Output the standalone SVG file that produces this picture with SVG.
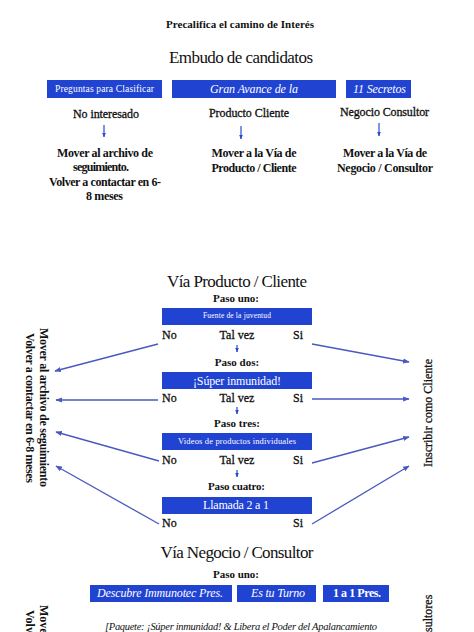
<svg xmlns="http://www.w3.org/2000/svg" width="474" height="632" viewBox="0 0 474 632">
<style>
.t{font-family:"Liberation Serif","Times New Roman",serif;fill:#111}
.d{stroke:#111;stroke-width:0.3}
.b{font-weight:bold}
.h{font-size:17px}
.m{font-size:12px}
.p{font-size:11px;font-weight:bold}
.w{font-family:"Liberation Serif","Times New Roman",serif;fill:#fff}
.i{font-style:italic}
.box{fill:#2143d2}
.c{stroke:#4a58c0;stroke-width:1.3;fill:none}
.a{stroke:#2b4cc8;stroke-width:1.2;fill:none}
</style>
<defs>
<marker id="ah" viewBox="0 0 10 10" refX="9" refY="5" markerWidth="5" markerHeight="5" orient="auto">
<path d="M0,1 L10,5 L0,9 z" fill="#4a58c0"/>
</marker>
<marker id="sa" viewBox="0 0 10 10" refX="9" refY="5" markerWidth="4" markerHeight="4" orient="auto">
<path d="M0,1 L10,5 L0,9 z" fill="#2b4cc8"/>
</marker>
</defs>
<rect width="474" height="632" fill="#fff"/>

<g id="title">
<text class="t b" x="240" y="28" font-size="11" text-anchor="middle" textLength="148">Precalifica el camino de Interés</text>
<text class="t h" x="241" y="63" text-anchor="middle" textLength="144">Embudo de candidatos</text>
</g>

<g id="box-preguntas"><rect class="box" x="47" y="80" width="115" height="18"/>
<text class="w" x="104.5" y="92" font-size="9.5" text-anchor="middle" textLength="99">Preguntas para Clasificar</text></g>
<g id="box-gran"><rect class="box" x="172" y="80" width="164" height="18"/>
<text class="w i" x="254" y="93" font-size="12" text-anchor="middle" textLength="88">Gran Avance de la</text></g>
<g id="box-secretos"><rect class="box" x="346" y="80" width="65" height="18"/>
<text class="w i" x="379.5" y="93" font-size="12" text-anchor="middle" textLength="53">11 Secretos</text></g>

<g id="col-no">
<text class="t m d" x="106" y="118" text-anchor="middle" textLength="66">No interesado</text>
<text class="t m b" x="105" y="157" text-anchor="middle" textLength="96">Mover al archivo de</text>
<text class="t m b" x="101" y="171" text-anchor="middle" textLength="56">seguimiento.</text>
<text class="t m b" x="105" y="186" text-anchor="middle" textLength="112">Volver a contactar en 6-</text>
<text class="t m b" x="104.5" y="200" text-anchor="middle" textLength="37">8 meses</text>
</g>
<g id="col-producto">
<text class="t m d" x="249" y="117" text-anchor="middle" textLength="80">Producto Cliente</text>
<text class="t m b" x="254" y="157" text-anchor="middle" textLength="85">Mover a la Vía de</text>
<text class="t m b" x="254" y="172" text-anchor="middle" textLength="85">Producto / Cliente</text>
</g>
<g id="col-negocio">
<text class="t m d" x="384.5" y="116" text-anchor="middle" textLength="89">Negocio Consultor</text>
<text class="t m b" x="385" y="157" text-anchor="middle" textLength="84">Mover a la Vía de</text>
<text class="t m b" x="385" y="172" text-anchor="middle" textLength="96">Negocio / Consultor</text>
</g>

<g id="via-producto">
<text class="t h" x="237" y="287" text-anchor="middle" textLength="140">Vía Producto / Cliente</text>
<text class="t p" x="236" y="302" text-anchor="middle" textLength="46">Paso uno:</text>
<rect class="box" x="162" y="308" width="150" height="17"/>
<text class="w" x="237" y="318" font-size="7.5" text-anchor="middle" textLength="68">Fuente de la juventud</text>
<text class="t m d" x="162" y="339">No</text><text class="t m d" x="237" y="339" text-anchor="middle">Tal vez</text><text class="t m d" x="298" y="339" text-anchor="middle">Si</text>

<text class="t p" x="237" y="366" text-anchor="middle">Paso dos:</text>
<rect class="box" x="162" y="372" width="150" height="17"/>
<text class="w" x="237" y="385" font-size="12" text-anchor="middle" textLength="88">¡Súper inmunidad!</text>
<text class="t m d" x="162" y="402">No</text><text class="t m d" x="237" y="402" text-anchor="middle">Tal vez</text><text class="t m d" x="298" y="402" text-anchor="middle">Si</text>

<text class="t p" x="237" y="427" text-anchor="middle">Paso tres:</text>
<rect class="box" x="162" y="433" width="150" height="17"/>
<text class="w" x="237" y="444" font-size="8.5" text-anchor="middle" textLength="118">Videos de productos individuales</text>
<text class="t m d" x="162" y="464">No</text><text class="t m d" x="237" y="464" text-anchor="middle">Tal vez</text><text class="t m d" x="298" y="464" text-anchor="middle">Si</text>

<text class="t p" x="236.5" y="490" text-anchor="middle" textLength="57">Paso cuatro:</text>
<rect class="box" x="162" y="497" width="150" height="17"/>
<text class="w" x="236" y="509" font-size="12" text-anchor="middle" textLength="66">Llamada 2 a 1</text>
<text class="t m d" x="162" y="527">No</text><text class="t m d" x="298" y="527" text-anchor="middle">Si</text>
</g>

<g id="side-left">
<text class="t m b" transform="translate(39.5,328) rotate(90)" textLength="159">Mover al archivo de seguimiento</text>
<text class="t m b" transform="translate(26,333) rotate(90)" textLength="150">Volver a contactar en 6-8 meses</text>
<text class="t m b" transform="translate(39.5,605) rotate(90)">Move</text>
<text class="t m b" transform="translate(26,610) rotate(90)">Volv</text>
</g>
<g id="side-right">
<text class="t m d" transform="translate(432,467) rotate(-90)" textLength="108">Inscribir como Cliente</text>
<text class="t m d" transform="translate(432,632) rotate(-90)">sultores</text>
</g>

<g id="via-negocio">
<text class="t h" x="237" y="558" text-anchor="middle" textLength="153">Vía Negocio / Consultor</text>
<text class="t p" x="236" y="578" text-anchor="middle" textLength="46">Paso uno:</text>
<rect class="box" x="90" y="585" width="142" height="17"/>
<text class="w i" x="160" y="597" font-size="12" text-anchor="middle" textLength="126">Descubre Immunotec Pres.</text>
<rect class="box" x="237" y="585" width="79" height="17"/>
<text class="w i" x="278" y="597" font-size="12" text-anchor="middle" textLength="54">Es tu Turno</text>
<rect class="box" x="323" y="585" width="66" height="17"/>
<text class="w b" x="357" y="597" font-size="12" text-anchor="middle" textLength="48">1 a 1 Pres.</text>
<text class="t i" x="105" y="630" font-size="10.5" textLength="272">[Paquete: ¡Súper inmunidad! &amp; Libera el Poder del Apalancamiento</text>
</g>

<g id="connectors">
<line class="a" x1="104" y1="125" x2="104" y2="137" marker-end="url(#sa)"/>
<line class="a" x1="241" y1="126" x2="241" y2="139" marker-end="url(#sa)"/>
<line class="a" x1="379" y1="123" x2="379" y2="136" marker-end="url(#sa)"/>
<line class="a" x1="237" y1="345" x2="237" y2="352" marker-end="url(#sa)"/>
<line class="a" x1="237" y1="407" x2="237" y2="414" marker-end="url(#sa)"/>
<line class="a" x1="237" y1="470" x2="237" y2="477" marker-end="url(#sa)"/>
<line class="c" x1="158" y1="344" x2="55" y2="371" marker-end="url(#ah)"/>
<line class="c" x1="158" y1="400" x2="56" y2="400" marker-end="url(#ah)"/>
<line class="c" x1="159" y1="461" x2="56" y2="432" marker-end="url(#ah)"/>
<line class="c" x1="159" y1="524" x2="56" y2="466" marker-end="url(#ah)"/>
<line class="c" x1="312" y1="344" x2="409" y2="362" marker-end="url(#ah)"/>
<line class="c" x1="312" y1="399" x2="409" y2="399" marker-end="url(#ah)"/>
<line class="c" x1="312" y1="463" x2="409" y2="437" marker-end="url(#ah)"/>
<line class="c" x1="312" y1="524" x2="409" y2="466" marker-end="url(#ah)"/>
</g>
</svg>
